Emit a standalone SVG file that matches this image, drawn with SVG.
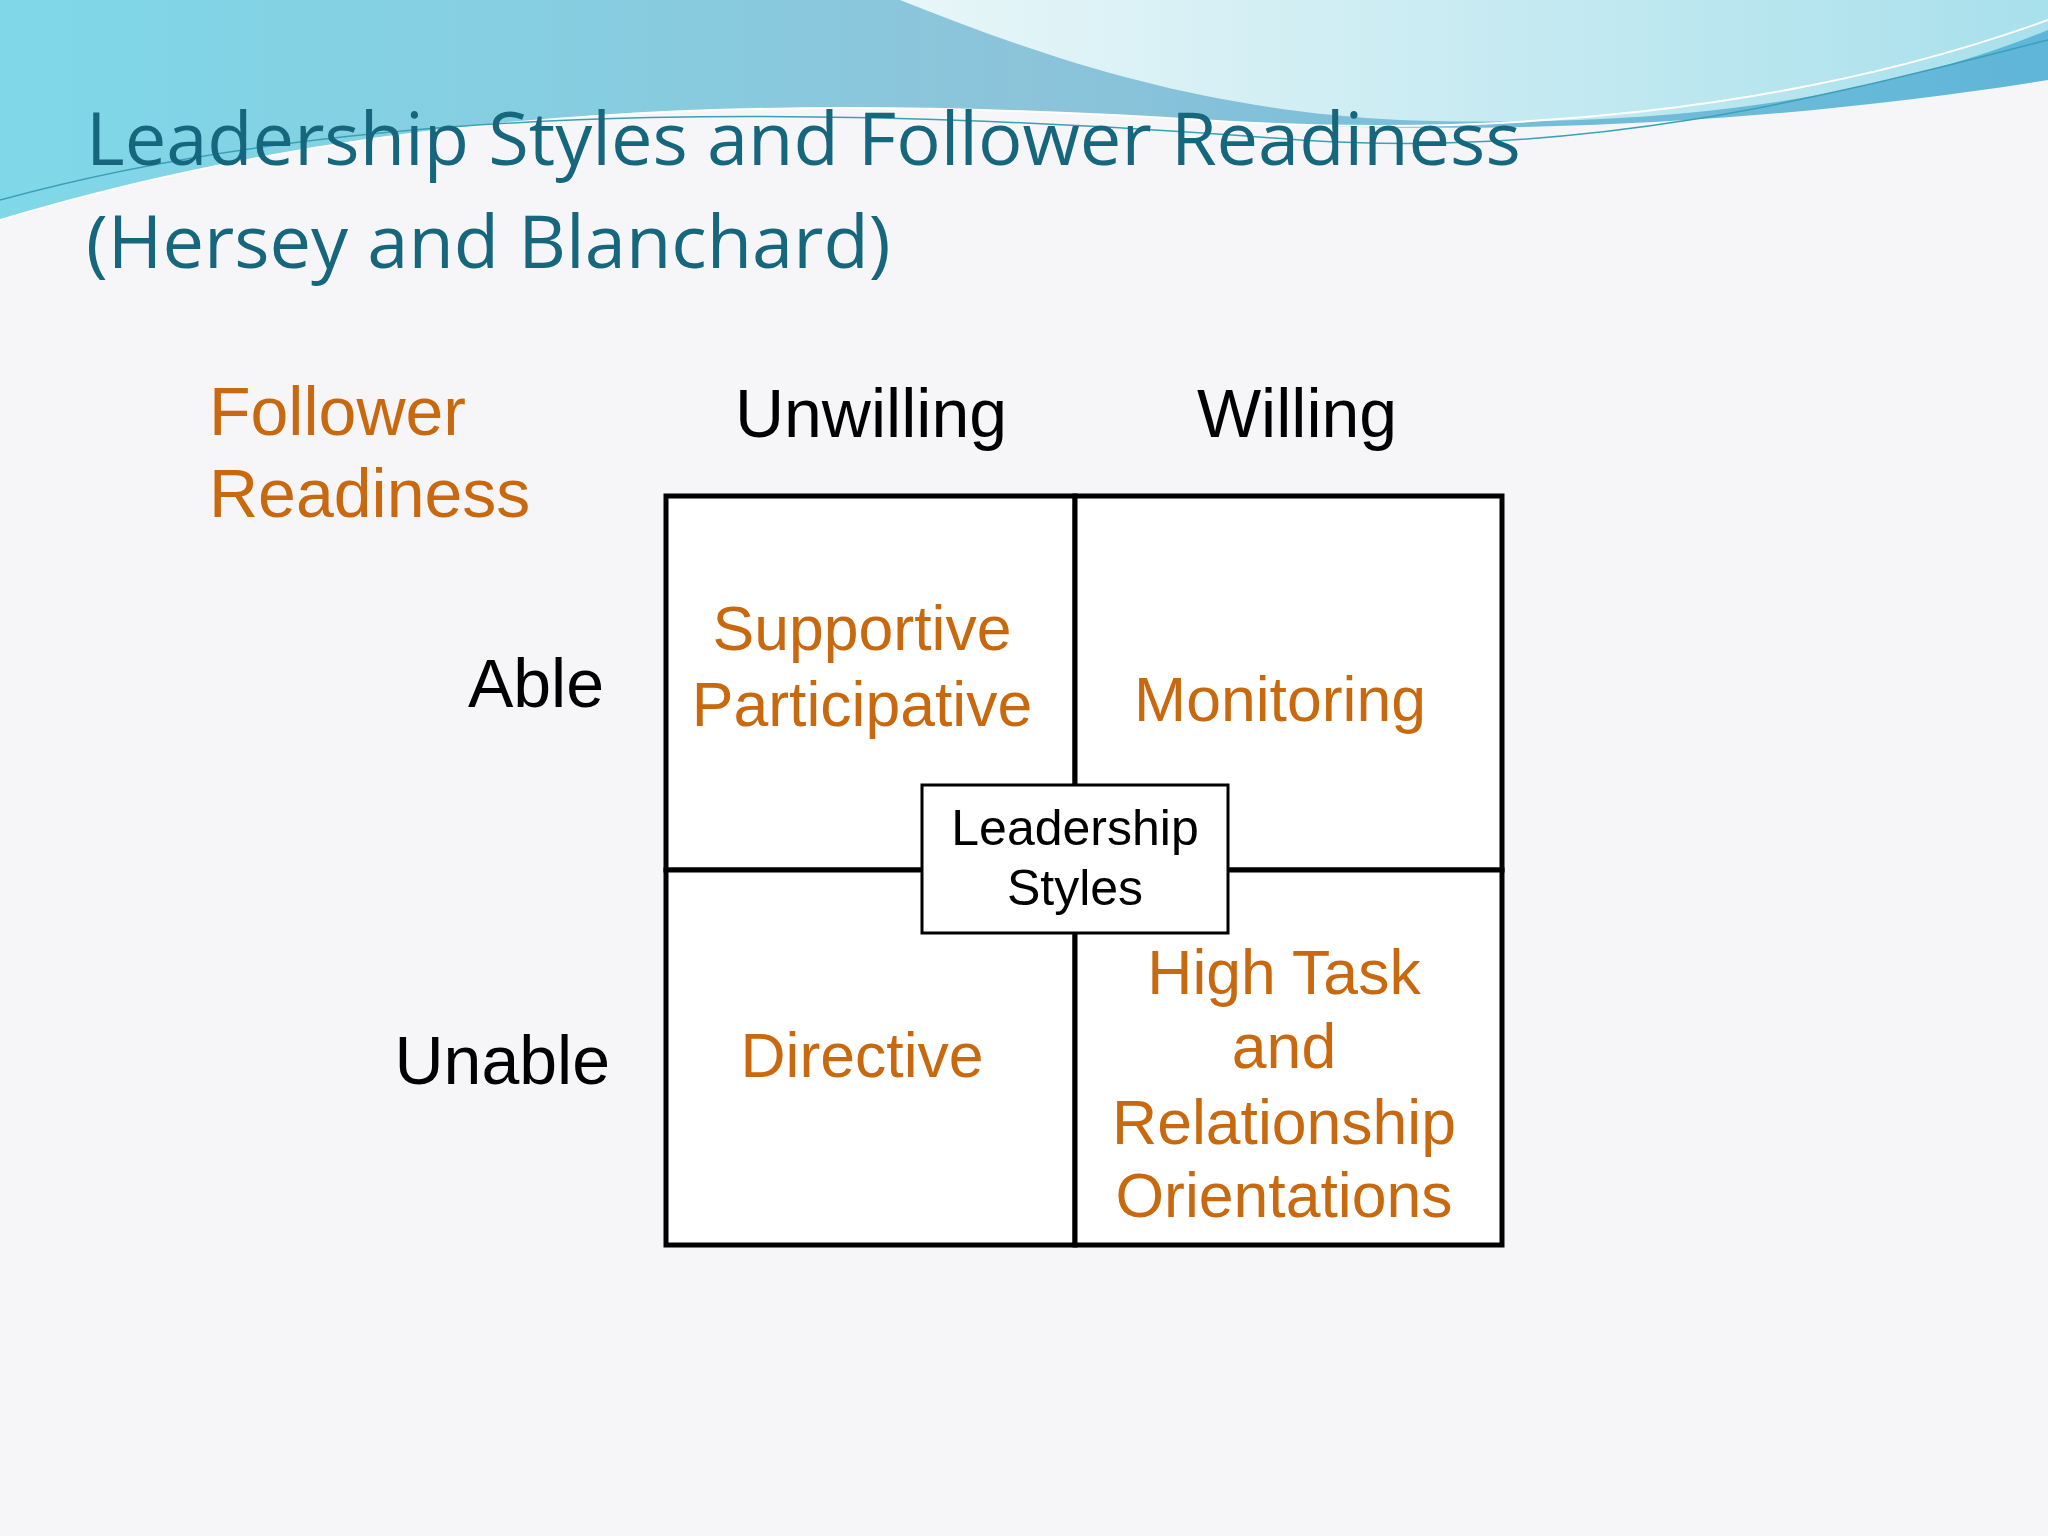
<svg xmlns="http://www.w3.org/2000/svg" width="2048" height="1536" viewBox="0 0 2048 1536">
<defs>
<linearGradient id="w1" x1="0" y1="0" x2="1" y2="0"><stop offset="0" stop-color="#7fd8e8"/><stop offset="0.5" stop-color="#8cc4da"/><stop offset="1" stop-color="#5fb6d8"/></linearGradient>
<linearGradient id="w2" x1="0" y1="0" x2="1" y2="0"><stop offset="0" stop-color="#e8f6f8"/><stop offset="1" stop-color="#a8e0ec"/></linearGradient>
</defs>
<style>
.t{font-family:"Liberation Sans",Arial,sans-serif}
.o{fill:#c8690f;font-size:62.5px}
.k{fill:#000;font-size:68px}
.cell{fill:#fff;stroke:#000;stroke-width:5}
</style>
<rect width="2048" height="1536" fill="#f6f6f8"/>
<g id="wave">
<path d="M0 0 H2048 V80 C1800 120 1500 140 1200 120 C800 95 400 100 0 220 Z" fill="url(#w1)"/>
<path d="M900 0 H2048 V30 C1900 90 1700 130 1400 120 C1200 110 1050 60 900 0 Z" fill="url(#w2)"/>
<path d="M0 220 C400 100 800 95 1200 120 C1500 140 1800 110 2048 20" fill="none" stroke="#ffffff" stroke-width="2"/>
<path d="M0 200 C400 90 900 110 1300 140 C1600 160 1850 90 2048 40" fill="none" stroke="#3aa0b8" stroke-width="1.5"/>
</g>
<g id="title" class="t" style="font-family:'Open Sans','Liberation Sans',sans-serif" fill="#16677e" font-size="74">
<text x="86" y="165">Leadership Styles and Follower Readiness</text>
<text x="86" y="268">(Hersey and Blanchard)</text>
</g>
<g id="labels" class="t">
<text class="o" x="209" y="435" style="font-size:68px">Follower</text>
<text class="o" x="209" y="517" style="font-size:68px">Readiness</text>
<text class="k" x="871" y="437" text-anchor="middle">Unwilling</text>
<text class="k" x="1297" y="437" text-anchor="middle">Willing</text>
<text class="k" x="604" y="707" text-anchor="end">Able</text>
<text class="k" x="610" y="1084" text-anchor="end">Unable</text>
</g>
<g id="grid">
<rect class="cell" x="666" y="496" width="409" height="374"/>
<rect class="cell" x="1075" y="496" width="427" height="374"/>
<rect class="cell" x="666" y="870" width="409" height="375"/>
<rect class="cell" x="1075" y="870" width="427" height="375"/>
</g>
<g id="cells" class="t" text-anchor="middle">
<text class="o" x="862" y="650">Supportive</text>
<text class="o" x="862" y="726">Participative</text>
<text class="o" x="1280" y="721">Monitoring</text>
<text class="o" x="862" y="1077">Directive</text>
<text class="o" x="1284" y="994">High Task</text>
<text class="o" x="1284" y="1068">and</text>
<text class="o" x="1284" y="1144">Relationship</text>
<text class="o" x="1284" y="1217">Orientations</text>
</g>
<g id="center">
<rect x="922" y="785" width="306" height="148" fill="#fff" stroke="#000" stroke-width="3"/>
<text class="t" x="1075" y="845" text-anchor="middle" font-size="50">Leadership</text>
<text class="t" x="1075" y="905" text-anchor="middle" font-size="50">Styles</text>
</g>
</svg>
